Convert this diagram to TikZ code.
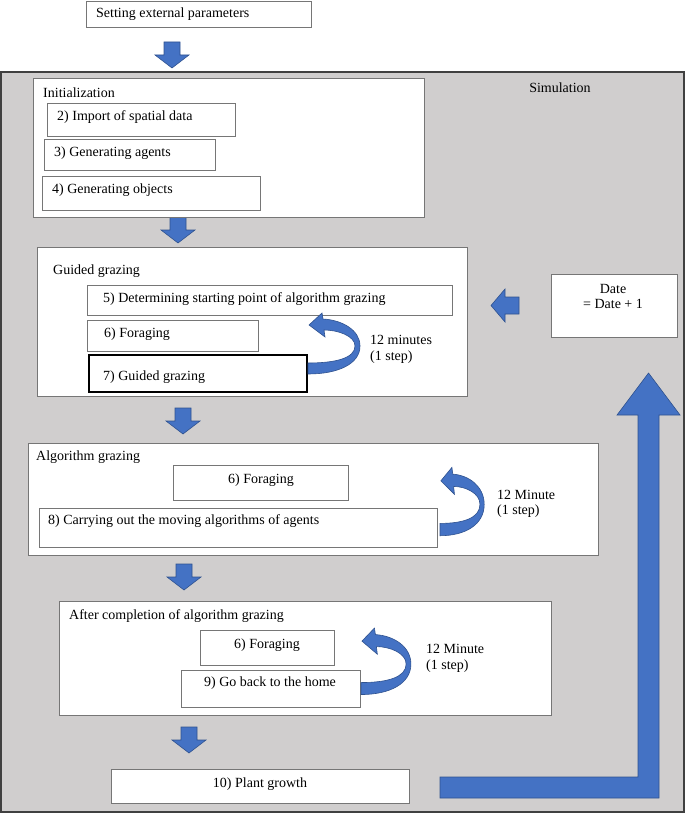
\documentclass[tikz,border=0pt]{standalone}
\usepackage{fontspec}
\setmainfont{Liberation Serif}
\definecolor{simgray}{RGB}{208,206,206}
\definecolor{blueA}{RGB}{68,114,196}
\definecolor{blueB}{RGB}{47,82,143}
\definecolor{boxline}{RGB}{118,118,118}
\definecolor{darkline}{RGB}{64,64,64}
\begin{document}
\begin{tikzpicture}[x=1pt,y=-1pt,
  font=\fontsize{14}{16}\selectfont,
  box/.style={draw=boxline, line width=0.9pt, fill=white, rectangle, inner sep=0pt},
  boldbox/.style={draw=black, line width=1.4pt, fill=white, rectangle, inner sep=0pt},
  txt/.style={inner sep=0pt, anchor=west},
  ctxt/.style={inner sep=0pt, anchor=center},
  blockarr/.style={fill=blueA, draw=blueB, line width=0.6pt, line join=miter},
  bdown/.pic={\draw[blockarr] (-8,0) -- (8,0) -- (8,13) -- (17,13) -- (0,26) -- (-17,13) -- (-8,13) -- cycle;},
  curvarr/.pic={\draw[blockarr] (0,6) .. controls (30,6) and (52,-4) .. (52,-22)
      .. controls (52,-38) and (34,-48) .. (15,-49) -- (14,-55) -- (1,-43) -- (17,-31) -- (16,-38)
      .. controls (30,-38) and (47,-32) .. (47,-22) .. controls (47,-10) and (28,-5) .. (0,-5) -- cycle;}
]
\useasboundingbox (0,0) rectangle (685,813);

% top box
\node[box, minimum width=225pt, minimum height=26pt] (top) at (198.5,14) {};
\node[txt] (toptxt) at (96,14) {Setting external parameters};

% simulation region
\node[draw=darkline, fill=simgray, line width=1.2pt, rectangle, inner sep=0pt,
      minimum width=683pt, minimum height=740pt] (sim) at (342.5,442) {};
\node[ctxt] (simtxt) at (560,88) {Simulation};

% arrows between stages
\pic at (172,42) {bdown};
\pic at (178,217) {bdown};
\pic at (183,408) {bdown};
\pic at (184,564) {bdown};
\pic at (189,727) {bdown};

% Initialization
\node[box, minimum width=391pt, minimum height=139pt] (init) at (228.5,147.5) {};
\node[txt] (inittxt) at (43,93) {Initialization};
\node[box, minimum width=188pt, minimum height=33pt] (b2) at (141,119.5) {};
\node[txt] (b2t) at (57,117) {2) Import of spatial data};
\node[box, minimum width=171pt, minimum height=31pt] (b3) at (129.5,154.5) {};
\node[txt] (b3t) at (54,153.5) {3) Generating agents};
\node[box, minimum width=218pt, minimum height=34pt] (b4) at (151,193) {};
\node[txt] (b4t) at (52,190) {4) Generating objects};

% Guided grazing
\node[box, minimum width=430pt, minimum height=149pt] (guided) at (252,321.5) {};
\node[txt] (guidedtxt) at (53,271) {Guided grazing};
\node[box, minimum width=365pt, minimum height=30pt] (b5) at (269.5,300) {};
\node[txt] (b5t) at (103,299) {5) Determining starting point of algorithm grazing};
\node[box, minimum width=171pt, minimum height=31pt] (b6) at (172.5,335.5) {};
\node[txt] (b6t) at (104,334) {6) Foraging};
\node[boldbox, minimum width=218pt, minimum height=37pt] (b7) at (198,373.5) {};
\node[txt] (b7t) at (103,377) {7) Guided grazing};
\pic at (308,368) {curvarr};
\node[txt, align=left, font=\fontsize{14}{15.5}\selectfont] (loop1) at (370,349.5) {12 minutes\\(1 step)};

% Date
\node[box, minimum width=126pt, minimum height=63pt] (date) at (614,305.5) {};
\node[ctxt, align=center, font=\fontsize{14}{15}\selectfont] (datet) at (613,296) {Date\\= Date + 1};
\draw[blockarr] (519,297) -- (505,297) -- (505,289) -- (491,305.5) -- (505,322) -- (505,314) -- (519,314) -- cycle;

% Algorithm grazing
\node[box, minimum width=570pt, minimum height=112pt] (alg) at (313,499) {};
\node[txt] (algtxt) at (36,457) {Algorithm grazing};
\node[box, minimum width=175pt, minimum height=35pt] (b6a) at (260.5,482.5) {};
\node[ctxt] (b6at) at (261,480) {6) Foraging};
\node[box, minimum width=398pt, minimum height=39pt] (b8) at (238,527.5) {};
\node[txt] (b8t) at (48,521) {8) Carrying out the moving algorithms of agents};
\pic[xscale=0.85, yscale=1.12] at (440,529) {curvarr};
\node[txt, align=left, font=\fontsize{14}{15.5}\selectfont] (loop2) at (497,504) {12 Minute\\(1 step)};

% After completion
\node[box, minimum width=492pt, minimum height=114pt] (after) at (305,658) {};
\node[txt] (aftertxt) at (69,616) {After completion of algorithm grazing};
\node[box, minimum width=134pt, minimum height=35pt] (b6b) at (267,647.5) {};
\node[ctxt] (b6bt) at (267,645) {6) Foraging};
\node[box, minimum width=179pt, minimum height=37pt] (b9) at (270.5,688.5) {};
\node[ctxt] (b9t) at (270,683) {9) Go back to the home};
\pic[xscale=0.96, yscale=1.09] at (361,688) {curvarr};
\node[txt, align=left, font=\fontsize{14}{15.5}\selectfont] (loop3) at (426,658.5) {12 Minute\\(1 step)};

% Plant growth
\node[box, minimum width=298pt, minimum height=34pt] (plant) at (260,786) {};
\node[ctxt] (plantt) at (260,784) {10) Plant growth};

% big return arrow
\draw[blockarr] (440,777) -- (638,777) -- (638,415) -- (617,415) -- (648.5,373) -- (680,415) -- (659,415) -- (659,798) -- (440,798) -- cycle;
\end{tikzpicture}
\end{document}
